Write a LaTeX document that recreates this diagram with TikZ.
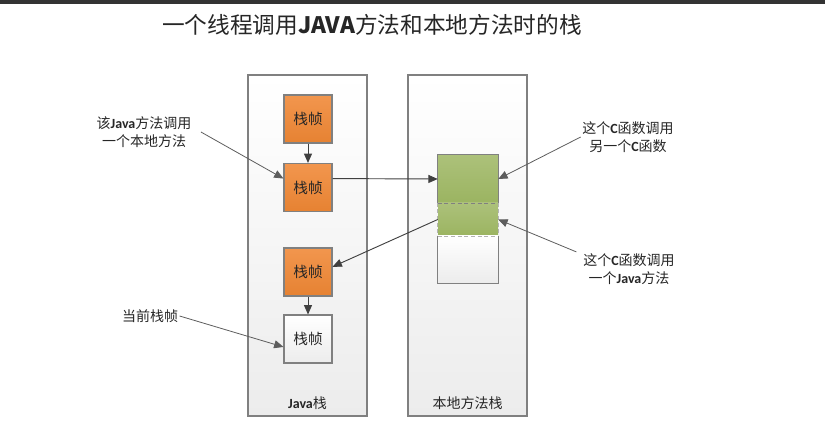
\documentclass[tikz,border=0pt]{standalone}
\usepackage{fontspec}
\setmainfont{Noto Sans CJK SC}
\newfontfamily\latfont{Carlito}
\usetikzlibrary{arrows.meta}

\definecolor{boxgray}{RGB}{128,128,128}
\definecolor{colbottom}{RGB}{236,236,236}
\definecolor{orangetop}{RGB}{242,150,78}
\definecolor{orangebot}{RGB}{230,130,50}
\definecolor{greentop}{RGB}{172,193,122}
\definecolor{greenbot}{RGB}{155,180,97}
\definecolor{inkgray}{RGB}{64,64,64}
\definecolor{txtgray}{RGB}{38,38,38}

\begin{document}
\begin{tikzpicture}[x=0.75pt, y=-0.75pt, >={Triangle[length=7pt,width=6pt]},
  stackcol/.style={draw=boxgray, line width=0.8pt, top color=white, bottom color=colbottom,
    minimum width=89.25pt, minimum height=255.75pt, inner sep=0pt},
  frame/.style={draw=boxgray, line width=0.8pt, top color=orangetop, bottom color=orangebot,
    minimum size=36pt, inner sep=0pt, font=\fontsize{11}{13}\selectfont, text=txtgray},
  curframe/.style={frame, top color=white, bottom color=colbottom},
  cframe/.style={top color=greentop, bottom color=greenbot, minimum width=45pt, inner sep=0pt},
  note/.style={align=center, font=\fontsize{10.5}{13.5}\selectfont, text=txtgray, inner sep=1pt},
  call/.style={->, draw=inkgray, line width=0.7pt},
  pointer/.style={->, draw=inkgray!85, line width=0.6pt},
  dashline/.style={draw=boxgray, line width=0.8pt, dash pattern=on 3pt off 2pt}]
  \useasboundingbox (0,0) rectangle (825,431);

  % Cropped strip at the top
  \fill[black!80] (0,0) rectangle (825,4);

  % Title
  \node[font=\fontsize{17}{20}\selectfont, text=black!85] (title) at (372,25)
    {一个线程调用\textbf{JAVA}方法和本地方法时的栈};

  % Stacks
  \node[stackcol] (jstack) at (307.5,245.5) {};
  \node[stackcol] (nstack) at (467.5,245.5) {};
  \node[note] (jname) at (307.5,403) {{\latfont\bfseries Java}栈};
  \node[note] (nname) at (467.5,403) {本地方法栈};

  % Java stack frames
  \node[frame] (f1) at (308,119) {栈帧};
  \node[frame] (f2) at (308,187.5) {栈帧};
  \node[frame] (f3) at (308,272) {栈帧};
  \node[curframe] (f4) at (308,339) {栈帧};

  % Native stack frames
  \node[cframe, minimum height=36pt] (c1) at (468,179) {};
  \node[cframe, minimum height=24.75pt] (c2) at (468,219.5) {};
  \node[top color=white, bottom color=colbottom, minimum width=45pt,
    minimum height=35.25pt, inner sep=0pt] (c3) at (468,259.5) {};
  \draw[draw=boxgray, line width=0.8pt] (c1.south west) |- (c1.north east) -- (c1.south east);
  \draw[dashline] (c1.south west) -- (c1.south east);
  \draw[dashline, draw=boxgray!60] (c2.north west) -- (c2.south west)
    (c2.north east) -- (c2.south east);
  \draw[dashline, draw=boxgray!60] (c2.south west) -- (c2.south east);
  \draw[draw=boxgray, line width=0.8pt] (c3.north west) |- (c3.south east) -- (c3.north east);

  % Calls
  \draw[call] (f1) -- (f2);
  \draw[call] (f3) -- (f4);
  \draw[call] (f2.20) -- (c1.west);
  \draw[call] (c2.west) -- (f3.12);

  % Notes
  \node[note] (l1) at (144,132) {该{\latfont\bfseries Java}方法调用\\一个本地方法};
  \node[note] (l2) at (150,316) {当前栈帧};
  \node[note] (r1) at (628,137) {这个{\latfont\bfseries C}函数调用\\另一个{\latfont\bfseries C}函数};
  \node[note] (r2) at (629,269) {这个{\latfont\bfseries C}函数调用\\一个{\latfont\bfseries Java}方法};

  \draw[pointer] ([xshift=6pt]l1.east) -- (f2.160);
  \draw[pointer] (l2.east) -- (f4.198);
  \draw[pointer] (r1.west) -- (c1.east);
  \draw[pointer] ([xshift=-4pt]r2.north west) -- (c2.east);
\end{tikzpicture}
\end{document}
